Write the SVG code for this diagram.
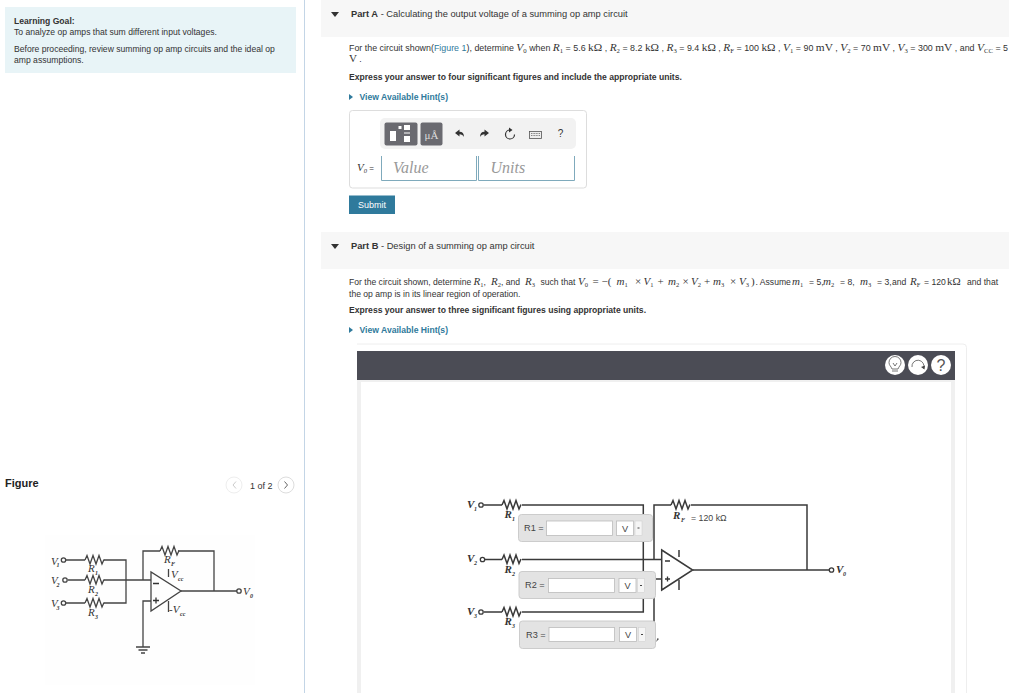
<svg xmlns="http://www.w3.org/2000/svg" xmlns:xlink="http://www.w3.org/1999/xlink" width="1024" height="693" viewBox="0 0 1024 693">
<style>
text{font-family:"Liberation Sans",Arial,sans-serif;font-size:8.6px;fill:#333}
.b{font-weight:bold}
.h{font-size:9.3px}
.m{font-family:"Liberation Serif","Times New Roman",serif;font-style:italic;font-size:11px}
.r{font-family:"Liberation Serif","Times New Roman",serif;font-size:11px}
.s{font-family:"Liberation Serif","Times New Roman",serif;font-size:6.5px}
.lk{fill:#2f7a9c}
.w{fill:none;stroke:#3a3a3a;stroke-width:1.5}
.w2{fill:none;stroke:#444;stroke-width:1.3}
.l{font-family:"Liberation Serif","Times New Roman",serif;font-style:italic;font-weight:bold;font-size:11px;fill:#333}
.ln{font-family:"Liberation Serif","Times New Roman",serif;font-style:italic;font-size:11px;fill:#333}
.ls{font-family:"Liberation Serif","Times New Roman",serif;font-style:italic;font-weight:bold;font-size:6px;fill:#333}
.box{fill:#e3e3e3;stroke:#ccc;stroke-width:1}
.in{fill:#fff;stroke:#bbb;stroke-width:.8}
.t{font-size:9.200px;fill:#444}
.pt{fill:#f7f7f7}
.ic{fill:#fff}
.ics{fill:none;stroke:#555;stroke-width:.8}
</style>
<defs>
<path id="zz" d="M0 0l2 -4.500 3 8.500 3 -8.500 3 8.500 3 -8.500 3 8.500 2 -4.500" fill="none"/>
<polygon id="tri" points="0,0 8,0 4,5" fill="#333"/>
</defs>

<rect width="1024" height="693" fill="#fff"/>
<line x1="304.500" y1="0" x2="304.500" y2="693" stroke="#c3d5e6"/>

<g id="learning-goal">
<rect x="5" y="7" width="291" height="66" fill="#e8f4f7"/>
<text x="14" y="24" class="b">Learning Goal:</text>
<text x="14" y="35">To analyze op amps that sum different input voltages.</text>
<text x="14" y="52">Before proceeding, review summing op amp circuits and the ideal op</text>
<text x="14" y="63">amp assumptions.</text>
</g>

<g id="figure-header">
<text x="5" y="487" class="b" style="font-size:11px;fill:#222">Figure</text>
<circle cx="234" cy="485" r="8" fill="#fff" stroke="#eee"/>
<path d="M236 481.500l-3 3.500 3 3.500" fill="none" stroke="#ccc"/>
<text x="250" y="489" style="font-size:9px">1 of 2</text>
<circle cx="286" cy="485" r="8" fill="#fff" stroke="#ddd"/>
<path d="M284.500 481.500l3 3.500 -3 3.500" fill="none" stroke="#666"/>
</g>

<g id="small-circuit">
<rect x="45" y="535" width="210" height="150" fill="#fefefe"/>
<g class="w2">
<path d="M66 560H85M104 560H126V603H104M68 580H85M104 580H151M66 603H85M143 580V551H160M178 551H214V591M181 591H237M151 601H143V647"/>
<use href="#zz" x="85" y="560"/><use href="#zz" x="85" y="580"/><use href="#zz" x="85" y="603"/><use href="#zz" x="160" y="551"/>
<polygon points="151,572 151,611 181,591"/>
<path d="M168.500 569V577M168.500 601V612M136 647H150M138.500 650H147.500M141 653H145"/>
<circle cx="63.500" cy="560" r="2.200"/><circle cx="65" cy="580" r="2.200"/><circle cx="63.500" cy="603" r="2.200"/><circle cx="239" cy="591" r="2.200"/>
</g>
<path d="M153 583.500H159M153 600.500H159M156 597.500V603.500" stroke="#333" stroke-width="1.300"/>
<text class="ln" x="51" y="565">V</text><text class="ls" x="56.500" y="567">1</text>
<text class="ln" x="51" y="584">V</text><text class="ls" x="56.500" y="587">2</text>
<text class="ln" x="51" y="607">V</text><text class="ls" x="56.500" y="610">3</text>
<text class="ln" x="88" y="572">R</text><text class="ls" x="95" y="575">1</text>
<text class="ln" x="88" y="593">R</text><text class="ls" x="95" y="596">2</text>
<text class="ln" x="88" y="616">R</text><text class="ls" x="95" y="619">3</text>
<text class="ln" x="164" y="563">R</text><text class="ls" x="171" y="566">F</text>
<text class="ln" x="171" y="578">V</text><text class="ls" x="178" y="581">cc</text>
<text class="ln" x="169" y="613">-V</text><text class="ls" x="180" y="616">cc</text>
<text class="ln" x="243" y="595">V</text><text class="ls" x="250" y="598">0</text>
</g>

<g id="part-a">
<rect class="pt" x="321" y="0" width="688" height="37"/>
<use href="#tri" x="331" y="12"/>
<text x="351" y="17" class="h"><tspan class="b">Part A</tspan> - Calculating the output voltage of a summing op amp circuit</text>
<text x="349" y="51" textLength="659" lengthAdjust="spacingAndGlyphs">For the circuit shown(<tspan class="lk">Figure 1</tspan>), determine <tspan class="m">V</tspan><tspan class="s" dy="2">0</tspan><tspan dy="-2"> when </tspan><tspan class="m">R</tspan><tspan class="s" dy="2">1</tspan><tspan dy="-2"> = 5.6 </tspan><tspan class="r">kΩ</tspan> , <tspan class="m">R</tspan><tspan class="s" dy="2">2</tspan><tspan dy="-2"> = 8.2 </tspan><tspan class="r">kΩ</tspan> , <tspan class="m">R</tspan><tspan class="s" dy="2">3</tspan><tspan dy="-2"> = 9.4 </tspan><tspan class="r">kΩ</tspan> , <tspan class="m">R</tspan><tspan class="s" dy="2">F</tspan><tspan dy="-2"> = 100 </tspan><tspan class="r">kΩ</tspan> , <tspan class="m">V</tspan><tspan class="s" dy="2">1</tspan><tspan dy="-2"> = 90 </tspan><tspan class="r">mV</tspan> , <tspan class="m">V</tspan><tspan class="s" dy="2">2</tspan><tspan dy="-2"> = 70 </tspan><tspan class="r">mV</tspan> , <tspan class="m">V</tspan><tspan class="s" dy="2">3</tspan><tspan dy="-2"> = 300 </tspan><tspan class="r">mV</tspan> , and <tspan class="m">V</tspan><tspan class="s" dy="2">CC</tspan><tspan dy="-2"> = 5</tspan></text>
<text x="349" y="62"><tspan class="r">V</tspan> .</text>
<text x="349" y="80" class="b">Express your answer to four significant figures and include the appropriate units.</text>
<path d="M349 94l4 3 -4 3z" fill="#2f7a9c"/>
<text x="359.500" y="100" class="b lk">View Available Hint(s)</text>
</g>

<g id="answer-box">
<rect x="349.500" y="110.500" width="237" height="77.500" rx="3" fill="#fff" stroke="#ddd"/>
<rect x="380" y="118" width="196" height="31" rx="5" fill="#f2f2f2"/>
<rect x="384.500" y="122.500" width="33" height="23" rx="2" fill="#6a6a70"/>
<rect x="420.500" y="122.500" width="22" height="23" rx="2" fill="#6a6a70"/>
<path d="M390 131h6v10h-6zM398.500 126h3v3h-3zM404 125h6v5h-6zM404 136h6v6h-6z" fill="#fff"/>
<path d="M404 133h6" stroke="#fff"/>
<text x="431.500" y="139" text-anchor="middle" class="r" style="font-size:11px;fill:#ddd">μÅ</text>
<path d="M455 133l4.500-3.500v2.200c3 0 4.500 1.800 4.500 5.300-1-2-2.500-2.800-4.500-2.800v2.300z" fill="#333"/>
<path d="M489 133l-4.500-3.500v2.200c-3 0-4.500 1.800-4.500 5.300 1-2 2.500-2.800 4.500-2.800v2.300z" fill="#333"/>
<path d="M510 130a4.500 4.500 0 1 0 4.500 4.500" fill="none" stroke="#333" stroke-width="1.200"/>
<path d="M509 127.500l3.500 2.500-3.500 2.500z" fill="#333"/>
<rect x="529.500" y="131.500" width="12" height="7" fill="#eee" stroke="#555" stroke-width=".8"/>
<path d="M531 133.500h9M531 135.500h9" stroke="#666" stroke-dasharray="1 .6" stroke-width=".8"/>
<text x="560.500" y="137" text-anchor="middle" style="font-size:10px">?</text>
<path d="M381.500 156V180.500H476.500V156M478.500 156V180.500H574.500V156" fill="none" stroke="#7faabc"/>
<text x="357" y="171" class="m">V<tspan class="s" dy="2">0</tspan><tspan dy="-2" style="font-family:'Liberation Sans';font-size:8px;font-style:normal"> =</tspan></text>
<text x="393" y="173" class="m" style="font-size:16px;fill:#999">Value</text>
<text x="490.500" y="173" class="m" style="font-size:16px;fill:#999">Units</text>
<rect x="349" y="195.500" width="46" height="18.500" fill="#2f7a9c"/>
<text x="372" y="208" text-anchor="middle" style="font-size:9px;fill:#fff">Submit</text>
</g>

<g id="part-b">
<rect class="pt" x="321" y="232" width="688" height="37"/>
<use href="#tri" x="331" y="244"/>
<text x="351" y="249" class="h"><tspan class="b">Part B</tspan> - Design of a summing op amp circuit</text>
<text y="285">
<tspan x="349">For the circuit shown, determine</tspan>
<tspan x="473.500" class="m">R</tspan><tspan class="s" dy="2">1</tspan><tspan dy="-2">,</tspan>
<tspan x="491" class="m">R</tspan><tspan class="s" dy="2">2</tspan><tspan dy="-2">, and</tspan>
<tspan x="525" class="m">R</tspan><tspan class="s" dy="2">3</tspan>
<tspan x="540.500" dy="-2">such that</tspan>
<tspan x="578" class="m">V</tspan><tspan class="s" dy="2">0</tspan>
<tspan x="592.500" class="r" dy="-2">=</tspan><tspan x="601.500" class="r">−(</tspan>
<tspan x="616.500" class="m">m</tspan><tspan class="s" dy="2">1</tspan>
<tspan x="635" class="r" dy="-2">×</tspan><tspan x="643.500" class="m">V</tspan><tspan class="s" dy="2">1</tspan>
<tspan x="657.500" class="r" dy="-2">+</tspan><tspan x="668" class="m">m</tspan><tspan class="s" dy="2">2</tspan>
<tspan x="682.500" class="r" dy="-2">×</tspan><tspan x="691" class="m">V</tspan><tspan class="s" dy="2">2</tspan>
<tspan x="704" class="r" dy="-2">+</tspan><tspan x="713" class="m">m</tspan><tspan class="s" dy="2">3</tspan>
<tspan x="730" class="r" dy="-2">×</tspan><tspan x="739" class="m">V</tspan><tspan class="s" dy="2">3</tspan>
<tspan x="751" class="r" dy="-2">)</tspan><tspan x="755.500">. Assume</tspan>
<tspan x="792" class="m">m</tspan><tspan class="s" dy="2">1</tspan>
<tspan x="809" dy="-2">= 5,</tspan>
<tspan x="823" class="m">m</tspan><tspan class="s" dy="2">2</tspan>
<tspan x="840" dy="-2">= 8,</tspan>
<tspan x="860" class="m">m</tspan><tspan class="s" dy="2">3</tspan>
<tspan x="877" dy="-2">= 3,</tspan>
<tspan x="892">and</tspan>
<tspan x="910" class="m">R</tspan><tspan class="s" dy="2">F</tspan>
<tspan x="924" dy="-2">= 120</tspan>
<tspan x="947" class="r">kΩ</tspan>
<tspan x="967">and that</tspan>
</text>
<text x="349" y="297">the op amp is in its linear region of operation.</text>
<text x="349" y="313" class="b">Express your answer to three significant figures using appropriate units.</text>
<path d="M349 327l4 3 -4 3z" fill="#2f7a9c"/>
<text x="359.500" y="333" class="b lk">View Available Hint(s)</text>
</g>

<g id="applet">
<path d="M357 344H963a3.500 3.500 0 0 1 3.500 3.500V693" fill="#fff" stroke="#eee"/>
<rect x="357" y="351" width="598" height="29" fill="#4b4c55"/>
<rect x="357" y="380" width="598" height="313" fill="#f0f0f0"/>
<rect x="361" y="382" width="590" height="311" fill="#fff"/>
<g id="hint-icons">
<circle class="ic" cx="895" cy="365" r="10"/>
<path class="ics" d="M892 371h6M892 369c-1-3-3-3.500-3-6.500a6 6 0 0 1 12 0c0 3-2 3.500-3 6.500zM893 363l2 3 2-3"/>
<circle class="ic" cx="918" cy="365" r="10"/>
<path class="ics" d="M912 367a6 6 0 1 1 11.500 1.500"/><path d="M921 367l3.500 2.500 .5-4z" fill="#444"/>
<circle class="ic" cx="941" cy="365" r="10"/>
<text x="941" y="371" text-anchor="middle" style="font-size:16px;fill:#555">?</text>
</g>
</g>

<g id="connectors" class="w">
<path d="M483.500 505H502M522 505H643.300V612H522M485 559.500H502M522 559.500H661.500M484 612H502M654 559.500V505H671M691 505H807V570M693 570H829M654 579H661.500M654 579V640" />
<path d="M679 550V557M679 580V590" />
<use href="#zz" x="502" y="505"/><use href="#zz" x="502" y="559.500"/><use href="#zz" x="502" y="612"/><use href="#zz" x="671" y="505"/>
</g>

<g id="big-opamp">
<polygon points="661.700,550 661.700,590 692.700,570" fill="#fff" stroke="#3a3a3a" stroke-width="1.500"/>
<path d="M665 561H670M665 579H670M667.500 576.500V581.500" stroke="#333" stroke-width="1.300"/>
<path d="M656 642l1.500-4 1.500 1z" fill="#555"/>
</g>
<g id="big-terminals" fill="#fff" stroke="#3a3a3a" stroke-width="1.300">
<circle cx="481" cy="505" r="2.200"/><circle cx="482.500" cy="559.500" r="2.200"/><circle cx="481" cy="612" r="2.200"/><circle cx="831.500" cy="570" r="2.200"/>
</g>
<g id="big-labels">
<text class="l" x="467" y="508">V</text><text class="ls" x="474" y="511">1</text>
<text class="l" x="467" y="562">V</text><text class="ls" x="474" y="565">2</text>
<text class="l" x="467" y="615">V</text><text class="ls" x="474" y="618">3</text>
<text class="l" x="504.500" y="518">R</text><text class="ls" x="512" y="521">1</text>
<text class="l" x="504.500" y="573">R</text><text class="ls" x="512" y="576">2</text>
<text class="l" x="504.500" y="625">R</text><text class="ls" x="512" y="628">3</text>
<text class="l" x="673" y="519">R</text><text class="ls" x="681" y="522">F</text>
<text x="691" y="521" style="font-size:8.800px;fill:#444">= 120 kΩ</text>
<text class="l" x="836" y="573">V</text><text class="ls" x="843" y="576">0</text>
</g>

<g id="r1-input">
<rect class="box" x="518.500" y="514.500" width="134" height="27" rx="3"/>
<text class="t" x="524" y="531">R1 =</text>
<rect class="in" x="546.500" y="521" width="66" height="14.500"/>
<rect class="in" x="616.500" y="521" width="17" height="14.500"/>
<text class="t" x="625" y="531.500" text-anchor="middle">V</text>
<rect x="635" y="521" width="7" height="14.500" fill="#f5f5f5" stroke="#ccc" stroke-width=".5"/>
<path d="M637.500 528h2" stroke="#444"/>
</g>
<g id="r2-input">
<rect class="box" x="519" y="571.500" width="136.500" height="27" rx="3"/>
<text class="t" x="525" y="588">R2 =</text>
<rect class="in" x="548.500" y="578.500" width="66" height="14"/>
<rect class="in" x="619" y="578.500" width="17" height="14"/>
<text class="t" x="627.500" y="589" text-anchor="middle">V</text>
<rect x="637.500" y="578.500" width="7" height="14" fill="#f5f5f5" stroke="#ccc" stroke-width=".5"/>
<path d="M640 585.500h2" stroke="#444"/>
</g>
<g id="r3-input">
<rect class="box" x="519.500" y="621" width="136" height="27.500" rx="3"/>
<text class="t" x="526" y="638">R3 =</text>
<rect class="in" x="549" y="627.500" width="65.500" height="14" stroke="none"/>
<rect class="in" x="619.500" y="627.500" width="17" height="14"/>
<text class="t" x="628" y="638" text-anchor="middle">V</text>
<rect x="638.500" y="627.500" width="7" height="14" fill="#f5f5f5" stroke="#ccc" stroke-width=".5"/>
<path d="M641 634.500h2" stroke="#444"/>
</g>
</svg>
